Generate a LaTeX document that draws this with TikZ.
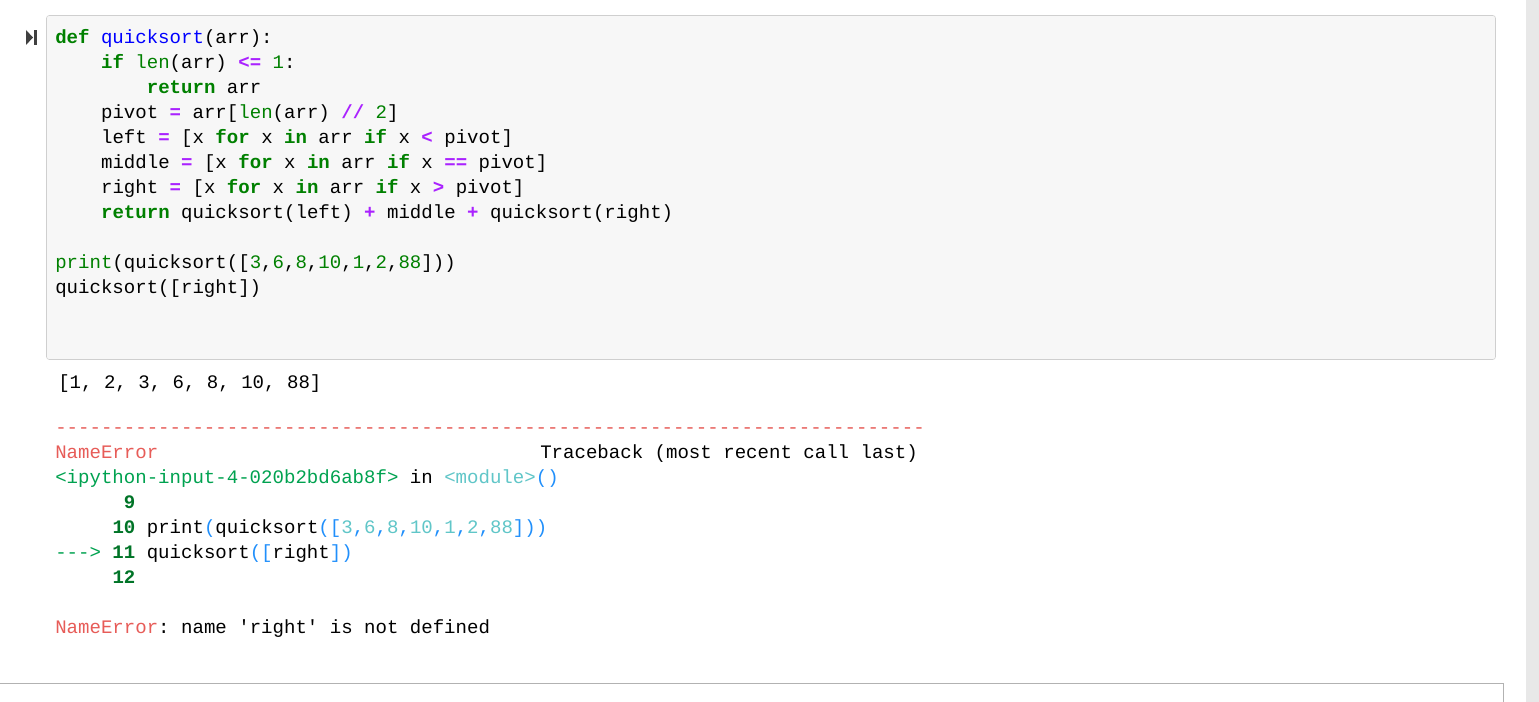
\documentclass[tikz,border=0pt]{standalone}
\usepackage{fontspec}
\newfontfamily\code{Liberation Mono}
\definecolor{kw}{HTML}{008000}
\definecolor{fn}{HTML}{0000FF}
\definecolor{op}{HTML}{AA22FF}
\definecolor{ered}{HTML}{E75C58}
\definecolor{egreen}{HTML}{00A250}
\definecolor{ecyan}{HTML}{60C6C8}
\definecolor{eblue}{HTML}{208FFB}
\definecolor{lnum}{HTML}{007427}
\newcommand{\K}[1]{\textcolor{kw}{\bfseries #1}}
\newcommand{\B}[1]{\textcolor{kw}{#1}}
\newcommand{\F}[1]{\textcolor{fn}{#1}}
\newcommand{\OP}[1]{\textcolor{op}{\bfseries #1}}
\newcommand{\R}[1]{\textcolor{ered}{#1}}
\newcommand{\G}[1]{\textcolor{egreen}{#1}}
\newcommand{\C}[1]{\textcolor{ecyan}{#1}}
\newcommand{\BL}[1]{\textcolor{eblue}{#1}}
\newcommand{\LN}[1]{\textcolor{lnum}{\bfseries #1}}
\newcommand{\q}{\char"0027\relax}
\begin{document}
\begin{tikzpicture}[x=0.75pt,y=-0.75pt,
  txt/.style={anchor=base west,inner sep=0pt,font=\code\fontsize{14.3pt}{17pt}\selectfont}]
\useasboundingbox (0,0) rectangle (1539,702);
\fill[white] (0,0) rectangle (1539,702);
\fill[black!9] (1526,0) rectangle (1539,702);
\draw[draw=black!19,fill=black!3,rounded corners=2] (46.5,15.5) rectangle (1495.5,359.5);
\draw[black!30] (0,683.5) -- (1503.5,683.5) -- (1503.5,702);
% run icon
\fill[black!75] (26,30) -- (33,37.5) -- (26,45) -- cycle;
\fill[black!75] (33.5,30) rectangle (37,45);
\def\cw{11.45}
\node[txt] (l1) at (55,44) {\K{def} \F{quicksort}(arr):};
\node[txt] (l2) at (55+4*\cw,69) {\K{if} \B{len}(arr) \OP{<=} \B{1}:};
\node[txt] (l3) at (55+8*\cw,94) {\K{return} arr};
\node[txt] (l4) at (55+4*\cw,119) {pivot \OP{=} arr[\B{len}(arr) \OP{//} \B{2}]};
\node[txt] (l5) at (55+4*\cw,144) {left \OP{=} [x \K{for} x \K{in} arr \K{if} x \OP{<} pivot]};
\node[txt] (l6) at (55+4*\cw,169) {middle \OP{=} [x \K{for} x \K{in} arr \K{if} x \OP{==} pivot]};
\node[txt] (l7) at (55+4*\cw,194) {right \OP{=} [x \K{for} x \K{in} arr \K{if} x \OP{>} pivot]};
\node[txt] (l8) at (55+4*\cw,219) {\K{return} quicksort(left) \OP{+} middle \OP{+} quicksort(right)};
\node[txt] (l10) at (55,269) {\B{print}(quicksort([\B{3},\B{6},\B{8},\B{10},\B{1},\B{2},\B{88}]))};
\node[txt] (l11) at (55,294) {quicksort([right])};
\node[txt] (o1) at (58,388) {[1, 2, 3, 6, 8, 10, 88]};
\node[txt] (d) at (55,433) {\R{\foreach\i in {1,...,76}{-}}};
\node[txt] (e1) at (55,458) {\R{NameError}};
\node[txt] (e1b) at (540,458) {Traceback (most recent call last)};
\node[txt] (e2) at (55,483) {\G{<ipython-input-4-020b2bd6ab8f>} in \C{<module>}\BL{()}};
\node[txt] (e3) at (55+6*\cw,508) {\LN{9}};
\node[txt] (e4) at (55+5*\cw,533) {\LN{10} print\BL{(}quicksort\BL{([}\C{3}\BL{,}\C{6}\BL{,}\C{8}\BL{,}\C{10}\BL{,}\C{1}\BL{,}\C{2}\BL{,}\C{88}\BL{]))}};
\node[txt] (e5) at (55,558) {\G{-{}-{}->} \LN{11} quicksort\BL{([}right\BL{])}};
\node[txt] (e6) at (55+5*\cw,583) {\LN{12}};
\node[txt] (e7) at (55,633) {\R{NameError}:\ name \q right\q{} is not defined};
\end{tikzpicture}
\end{document}
